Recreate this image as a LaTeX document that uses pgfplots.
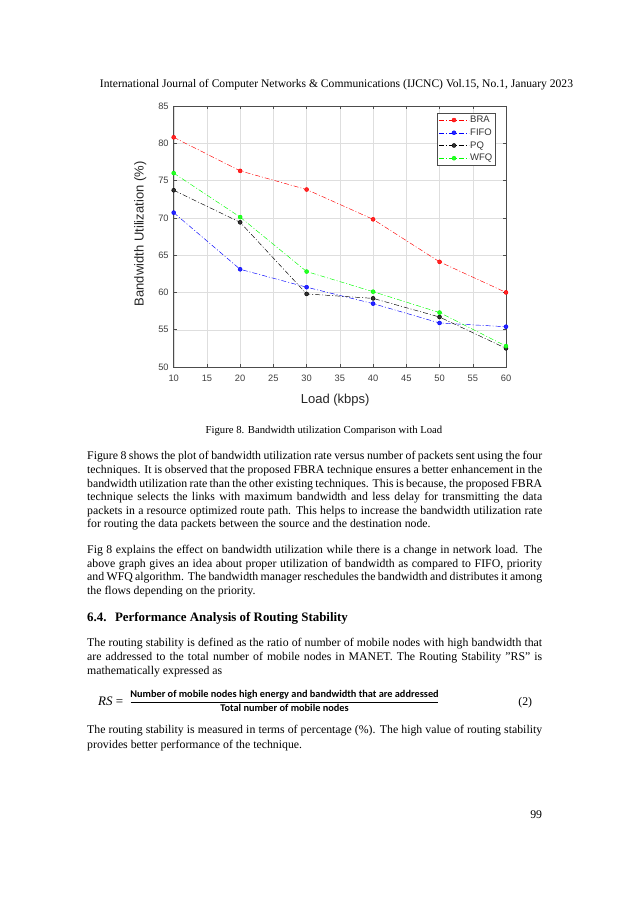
\documentclass[border=0pt]{standalone}
\usepackage{fontspec}
\usepackage{pgfplots}
\pgfplotsset{compat=1.18}
\setmainfont{Liberation Serif}
\newfontfamily\chartfont{Liberation Sans}
\newfontfamily\calibri{Carlito}

\tikzset{body/.style={font=\fontsize{11.8}{13.6}\selectfont, inner sep=0pt}}
% one justified line of body text, baseline at image row #1
\newcommand\jl[2]{\node[body,anchor=base west] at (87,902-#1) {\makebox[455pt][s]{#2}};}
% last (ragged) line of a paragraph
\newcommand\lastl[2]{\node[body,anchor=base west] at (87,902-#1) {#2};}

\pgfplotstableread{
x   BRA   FIFO  PQ    WFQ
10  80.8  70.7  73.7  76.0
20  76.3  63.1  69.4  70.1
30  73.8  60.7  59.8  62.8
40  69.8  58.5  59.2  60.1
50  64.1  55.9  56.7  57.3
60  60.0  55.4  52.5  52.8
}\bwdata

\begin{document}
\begin{tikzpicture}[x=1pt,y=1pt]
\fill[white] (0,0) rectangle (638,902);

\node[anchor=base,inner sep=0pt,font=\fontsize{11.6}{13}\selectfont] at (336.5,902-88)
  {International Journal of Computer Networks \& Communications (IJCNC) Vol.15, No.1, January 2023};

\begin{axis}[
  at={(173.7pt,535pt)}, anchor=south west,
  scale only axis, width=332.3pt, height=261pt,
  xmin=10, xmax=60, ymin=50, ymax=85,
  xtick={10,15,...,60}, ytick={50,55,...,85},
  grid=major, major grid style={black!13, line width=0.4pt},
  axis line style={black!70, line width=0.6pt},
  tick style={black!70, line width=0.5pt},
  tick align=inside, major tick length=3pt,
  /pgf/number format/assume math mode=true,
  tick label style={font=\chartfont\fontsize{9.3}{9.3}\selectfont, text=black!75},
  xticklabel style={anchor=north, text height=6.8pt, text depth=0pt, yshift=-4.5pt},
  yticklabel style={xshift=-1.5pt},
  xlabel={Load (kbps)}, ylabel={Bandwidth Utilization (\%)},
  every axis x label/.style={at={(axis description cs:0.486,-0.126)},anchor=center,
    font=\chartfont\fontsize{13}{13}\selectfont, text=black!85},
  every axis y label/.style={at={(axis description cs:-0.101,0.51)},anchor=center,rotate=90,
    font=\chartfont\fontsize{13}{13}\selectfont, text=black!85},
  legend style={at={(axis description cs:0.7924,0.972)}, anchor=north west,
    draw=black!70, line width=0.5pt, font=\chartfont\fontsize{9.5}{9.5}\selectfont,
    text=black!80, inner sep=1.5pt, row sep=2.6pt,
    nodes={inner sep=1pt}},
  legend cell align=left,
  legend image code/.code={\draw[mark repeat=2,mark phase=2,#1] plot coordinates {(0pt,0pt) (15pt,0pt) (30pt,0pt)};},
  every axis plot/.append style={line width=0.45pt,
    dash pattern=on 5pt off 2pt on 1pt off 2pt},
]
\addplot[red, mark=*, mark size=2pt, mark options={solid, fill=red!85}] table[x=x,y=BRA] {\bwdata};
\addplot[blue, mark=*, mark size=2pt, mark options={solid, fill=blue!85}] table[x=x,y=FIFO] {\bwdata};
\addplot[black, mark=*, mark size=2pt, mark options={solid, fill=black!80}] table[x=x,y=PQ] {\bwdata};
\addplot[green, mark=*, mark size=2pt, mark options={solid, fill=green!85}] table[x=x,y=WFQ] {\bwdata};
\legend{BRA,FIFO,PQ,WFQ}
\end{axis}

\node[anchor=base,inner sep=0pt,font=\fontsize{10.7}{12}\selectfont] at (324,902-433.5)
  {Figure 8. Bandwidth utilization Comparison with Load};

\jl{460}{Figure 8 shows the plot of bandwidth utilization rate versus number of packets sent using the four}
\jl{473.6}{techniques. It is observed that the proposed FBRA technique ensures a better enhancement in the}
\jl{487.2}{bandwidth utilization rate than the other existing techniques. This is because, the proposed FBRA}
\jl{500.8}{technique selects the links with maximum bandwidth and less delay for transmitting the data}
\jl{514.4}{packets in a resource optimized route path. This helps to increase the bandwidth utilization rate}
\lastl{528}{for routing the data packets between the source and the destination node.}

\jl{553.5}{Fig 8 explains the effect on bandwidth utilization while there is a change in network load. The}
\jl{567.2}{above graph gives an idea about proper utilization of bandwidth as compared to FIFO, priority}
\jl{580.8}{and WFQ algorithm. The bandwidth manager reschedules the bandwidth and distributes it among}
\lastl{594.4}{the flows depending on the priority.}

\node[anchor=base west,inner sep=0pt,font=\fontsize{12.9}{14}\selectfont\bfseries] at (87,902-621.5)
  {6.4.\hspace{8.5pt}Performance Analysis of Routing Stability};

\jl{647}{The routing stability is defined as the ratio of number of mobile nodes with high bandwidth that}
\jl{661}{are addressed to the total number of mobile nodes in MANET. The Routing Stability "RS" is}
\lastl{675}{mathematically expressed as}

\node[anchor=base west,inner sep=0pt,font=\fontsize{13}{14}\selectfont] at (98,902-706) {\textit{RS} =};
\node[anchor=base,inner sep=0pt,font=\calibri\bfseries\fontsize{10.3}{11}\selectfont] at (284.5,902-697.5)
  {Number of mobile nodes high energy and bandwidth that are addressed};
\draw[line width=0.5pt] (130.7,902-702.3) -- (438.3,902-702.3);
\node[anchor=base,inner sep=0pt,font=\calibri\bfseries\fontsize{10.3}{11}\selectfont] at (284.5,902-711.8)
  {Total number of mobile nodes};
\node[body,anchor=base east] at (532.3,902-706) {(2)};

\jl{734}{The routing stability is measured in terms of percentage (\%). The high value of routing stability}
\lastl{748.5}{provides better performance of the technique.}

\node[body,anchor=base east] at (542.3,902-819) {99};
\end{tikzpicture}
\end{document}
